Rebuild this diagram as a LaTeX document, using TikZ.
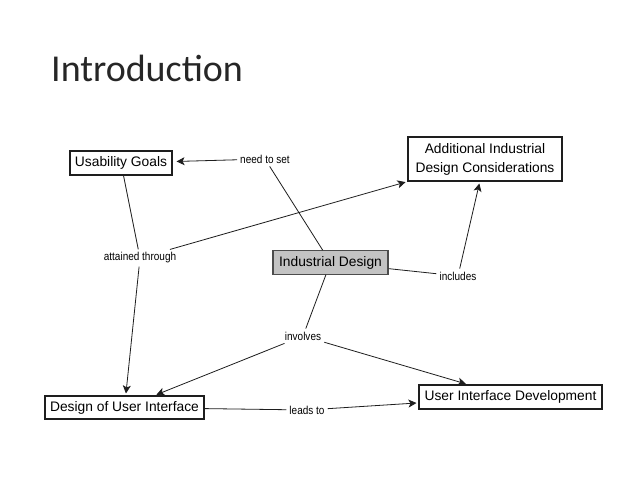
\documentclass[tikz,border=0pt]{standalone}
\usepackage{fontspec}
\setmainfont{Liberation Sans}
\newfontfamily\titlefont{Carlito}
\newfontfamily\lblfont[FakeStretch=0.87]{Liberation Sans}
\usetikzlibrary{arrows.meta}
\definecolor{linec}{HTML}{1E1E1E}
\definecolor{idfill}{HTML}{C3C3C3}
\tikzset{
  concept/.style={draw=linec, line width=1.1pt, fill=white, inner sep=0pt, align=center,
    font=\fontsize{13.8}{19}\selectfont},
  lbl/.style={inner sep=3pt, font=\lblfont\fontsize{11.5}{13}\selectfont, text=black},
  conn/.style={draw=linec, line width=0.8pt},
  arr/.style={conn, -{Stealth[length=8pt,width=8pt,inset=2pt]}, shorten >=2pt},
}
\begin{document}
\begin{tikzpicture}[x=1pt,y=-1pt]
\useasboundingbox (0,0) rectangle (638,478);
\fill[white] (0,0) rectangle (638,478);
\node[anchor=base west, inner sep=0pt, text=black!85, font=\titlefont\fontsize{38}{40}\selectfont] (title) at (51,82) {Introduction};

\node[concept, minimum width=102pt, minimum height=24pt] (ug) at (121,163) {Usability Goals};
\node[concept, minimum width=154pt, minimum height=44pt] (adc) at (485,159) {Additional Industrial\\Design Considerations};
\node[concept, fill=idfill, draw=black!70, minimum width=115pt, minimum height=23.5pt] (id) at (330.5,262.5) {Industrial Design};
\node[concept, minimum width=159pt, minimum height=23pt] (dui) at (124.5,407.5) {Design of User Interface};
\node[concept, minimum width=183pt, minimum height=24pt] (uid) at (510.5,397) {User Interface Development};

\node[lbl] (need) at (265,159) {need to set};
\node[lbl] (att) at (140,258) {attained through};
\node[lbl] (inc) at (458,276) {includes};
\node[lbl] (inv) at (303,336) {involves};
\node[lbl] (lead) at (307,410) {leads to};

\draw[conn] (id) -- (need);
\draw[arr, shorten >=4pt] (need) -- (ug);
\draw[conn] (ug) -- (att);
\draw[arr] (att) -- (dui);
\draw[arr] (att) -- (adc.south west);
\draw[conn] (id) -- (inc);
\draw[arr] (inc) -- (adc);
\draw[conn] (id) -- (inv);
\draw[arr] (inv) -- (dui);
\draw[arr] (inv) -- (uid);
\draw[conn] (dui) -- (lead);
\draw[arr] (lead) -- (uid);
\end{tikzpicture}
\end{document}
